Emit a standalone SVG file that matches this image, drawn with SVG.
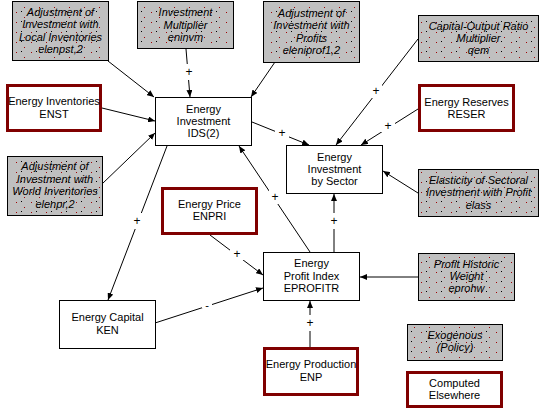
<svg xmlns="http://www.w3.org/2000/svg" width="540" height="416" viewBox="0 0 540 416">
<style>
.box{fill:#fff;stroke:#000;stroke-width:1}
.exo{fill:#c0c0c0;stroke:#000;stroke-width:1}
.comp{fill:#fff;stroke:#800000;stroke-width:3}
.dots{fill:url(#dots);stroke:none}
text{font-family:"Liberation Sans",Arial,sans-serif;font-size:11px;fill:#000;text-anchor:middle}
.it{font-style:italic}
.pl{font-size:12px}
.ln{stroke:#000;stroke-width:1;fill:none;marker-end:url(#ah)}
.gap{fill:#fff;stroke:none}
</style>
<defs>
<marker id="ah" viewBox="0 0 7 6" refX="7" refY="3" markerWidth="7" markerHeight="6" markerUnits="userSpaceOnUse" orient="auto">
<path d="M0,0 L7,3 L0,6 z" fill="#000"/>
</marker>
<pattern id="dots" x="0" y="0" width="15" height="10" patternUnits="userSpaceOnUse">
<rect x="1" y="2" width="1" height="1" fill="#a00000"/>
<rect x="9" y="7" width="1" height="1" fill="#a00000"/>
<rect x="6" y="1" width="1" height="1" fill="#000"/>
</pattern>
</defs>
<rect width="540" height="416" fill="#fff"/>

<g id="connectors">
<line class="ln" x1="108" y1="61" x2="154" y2="97"/>
<line class="ln" x1="186" y1="49" x2="190" y2="97"/>
<line class="ln" x1="275" y1="62" x2="251" y2="97"/>
<line class="ln" x1="102" y1="108" x2="155" y2="121"/>
<line class="ln" x1="102" y1="184" x2="155" y2="133"/>
<line class="ln" x1="167" y1="146" x2="108" y2="300"/>
<line class="ln" x1="252" y1="122" x2="309" y2="145"/>
<line class="ln" x1="418" y1="39" x2="336" y2="145"/>
<line class="ln" x1="418" y1="109" x2="361" y2="145"/>
<line class="ln" x1="418" y1="193" x2="383" y2="171"/>
<line class="ln" x1="334" y1="252" x2="334" y2="194"/>
<line class="ln" x1="310" y1="252" x2="239" y2="146"/>
<line class="ln" x1="210" y1="235" x2="263" y2="275"/>
<line class="ln" x1="155" y1="323" x2="263" y2="288"/>
<line class="ln" x1="418" y1="277" x2="360" y2="277"/>
<line class="ln" x1="310" y1="347" x2="310" y2="301"/>
<g id="labels">
<rect class="gap" x="184" y="64" width="10" height="16"/><text class="pl" x="189" y="76">+</text>
<rect class="gap" x="132" y="213" width="10" height="16"/><text class="pl" x="137" y="225">+</text>
<rect class="gap" x="275" y="127" width="14" height="12"/><text class="pl" x="282" y="137">+</text>
<rect class="gap" x="370" y="84" width="12" height="14"/><text class="pl" x="376" y="95">+</text>
<rect class="gap" x="381" y="120" width="14" height="12"/><text class="pl" x="388" y="130">+</text>
<rect class="gap" x="329" y="213" width="10" height="16"/><text class="pl" x="334" y="225">+</text>
<rect class="gap" x="269" y="190" width="12" height="14"/><text class="pl" x="275" y="201">+</text>
<rect class="gap" x="230" y="248" width="14" height="12"/><text class="pl" x="237" y="258">+</text>
<rect class="gap" x="202" y="302" width="10" height="6"/><text x="207" y="308.7">-</text>
<rect class="gap" x="305" y="315" width="10" height="16"/><text class="pl" x="310" y="327">+</text>
</g>
</g>

<g id="n-elenpst">
<rect class="exo" x="12.5" y="1.5" width="96" height="59"/>
<rect class="dots" x="15" y="4" width="91" height="54"/>
<text class="it" x="60.5" y="15.9">Adjustment of</text>
<text class="it" x="60.5" y="28.3">Investment with</text>
<text class="it" x="60.5" y="40.7">Local Inventories</text>
<text class="it" x="60.5" y="53.1">elenpst,2</text>
</g>
<g id="n-eninvm">
<rect class="exo" x="137.5" y="1.5" width="96" height="47"/>
<rect class="dots" x="140" y="4" width="91" height="42"/>
<text class="it" x="185.5" y="16.1">Investment</text>
<text class="it" x="185.5" y="28.5">Multiplier</text>
<text class="it" x="185.5" y="40.9">eninvm</text>
</g>
<g id="n-eleniprof">
<rect class="exo" x="263.5" y="1.5" width="96" height="61"/>
<rect class="dots" x="266" y="4" width="91" height="56"/>
<text class="it" x="311.5" y="16.9">Adjustment of</text>
<text class="it" x="311.5" y="29.3">Investment with</text>
<text class="it" x="311.5" y="41.7">Profits</text>
<text class="it" x="311.5" y="54.1">eleniprof1,2</text>
</g>
<g id="n-qem">
<rect class="exo" x="418.5" y="15.5" width="120" height="46"/>
<rect class="dots" x="421" y="18" width="115" height="41"/>
<text class="it" x="478.5" y="29.6">Capital-Output Ratio</text>
<text class="it" x="478.5" y="42">Multiplier</text>
<text class="it" x="478.5" y="54.4">qem</text>
</g>
<g id="n-enst">
<rect class="comp" x="7.5" y="85.5" width="93" height="45"/>
<text x="54" y="105.2">Energy Inventories</text>
<text x="54" y="117.6">ENST</text>
</g>
<g id="n-ids">
<rect class="box" x="155.5" y="97.5" width="96" height="48"/>
<text x="203.5" y="112.6">Energy</text>
<text x="203.5" y="125">Investment</text>
<text x="203.5" y="137.4">IDS(2)</text>
</g>
<g id="n-reser">
<rect class="comp" x="419.5" y="85.5" width="94" height="45"/>
<text x="466.5" y="105.5">Energy Reserves</text>
<text x="466.5" y="117.9">RESER</text>
</g>
<g id="n-elenpr">
<rect class="exo" x="7.5" y="156.5" width="95" height="59"/>
<rect class="dots" x="10" y="159" width="90" height="54"/>
<text class="it" x="55" y="170.4">Adjustment of</text>
<text class="it" x="55" y="182.8">Investment with</text>
<text class="it" x="55" y="195.2">World Inventories</text>
<text class="it" x="55" y="207.6">elenpr,2</text>
</g>
<g id="n-sector">
<rect class="box" x="286.5" y="145.5" width="96" height="48"/>
<text x="334.5" y="160.6">Energy</text>
<text x="334.5" y="173">Investment</text>
<text x="334.5" y="185.4">by Sector</text>
</g>
<g id="n-enpri">
<rect class="comp" x="162.5" y="188.5" width="94" height="45"/>
<text x="209.5" y="207.6">Energy Price</text>
<text x="209.5" y="220">ENPRI</text>
</g>
<g id="n-elass">
<rect class="exo" x="418.5" y="169.5" width="120" height="47"/>
<rect class="dots" x="421" y="172" width="115" height="42"/>
<text class="it" x="478.5" y="184">Elasticity of Sectoral</text>
<text class="it" x="478.5" y="196.4">Investment with Profit</text>
<text class="it" x="478.5" y="208.8">elass</text>
</g>
<g id="n-eprofitr">
<rect class="box" x="263.5" y="252.5" width="96" height="48"/>
<text x="311.5" y="267.4">Energy</text>
<text x="311.5" y="279.8">Profit Index</text>
<text x="311.5" y="292.2">EPROFITR</text>
</g>
<g id="n-eprohw">
<rect class="exo" x="418.5" y="253.5" width="96" height="47"/>
<rect class="dots" x="421" y="256" width="91" height="42"/>
<text class="it" x="466.5" y="267.6">Profit Historic</text>
<text class="it" x="466.5" y="280">Weight</text>
<text class="it" x="466.5" y="292.4">eprohw</text>
</g>
<g id="n-ken">
<rect class="box" x="59.5" y="300.5" width="96" height="48"/>
<text x="107.5" y="321.3">Energy Capital</text>
<text x="107.5" y="333.7">KEN</text>
</g>
<g id="n-enp">
<rect class="comp" x="264.5" y="348.5" width="93" height="46"/>
<text x="311" y="368.3">Energy Production</text>
<text x="311" y="380.7">ENP</text>
</g>
<g id="legend-exo">
<rect class="exo" x="407.5" y="324.5" width="95" height="36"/>
<rect class="dots" x="410" y="327" width="90" height="31"/>
<text class="it" x="455" y="338.5">Exogenous</text>
<text class="it" x="455" y="350.9">(Policy)</text>
</g>
<g id="legend-comp">
<rect class="comp" x="407.5" y="372.5" width="94" height="34"/>
<text x="454.5" y="386.6">Computed</text>
<text x="454.5" y="399">Elsewhere</text>
</g>
</svg>
